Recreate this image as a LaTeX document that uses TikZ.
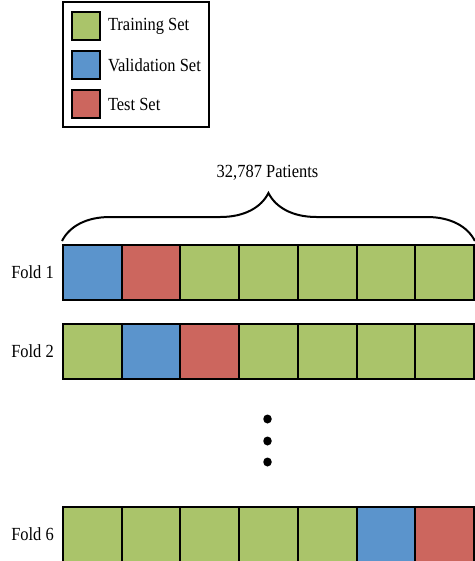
\documentclass[tikz,border=0pt]{standalone}
\usepackage{fontspec}
\setmainfont[FakeStretch=0.89]{Liberation Serif}
\usepackage{tikz}
\usetikzlibrary{positioning,decorations.pathreplacing,shapes.geometric}
\definecolor{trainGreen}{HTML}{AAC46A}
\definecolor{valBlue}{HTML}{5B94CC}
\definecolor{testRed}{HTML}{CC665E}
\tikzset{
  cell/.style={draw,line width=2pt,minimum width=58.7pt,minimum height=55pt,inner sep=0pt,anchor=north west},
  keybox/.style={draw,line width=1.6pt,minimum size=28pt,inner sep=0pt},
  lbl/.style={font=\fontsize{18.5}{22}\selectfont,inner sep=0pt},
  dotmark/.style={ellipse,fill=black,minimum width=8.5pt,minimum height=9pt,inner sep=0pt}
}
\begin{document}
\begin{tikzpicture}[x=1pt,y=-1pt]
\useasboundingbox (0,0) rectangle (474,561);

% legend
\node[draw,line width=2pt,minimum width=146pt,minimum height=125pt,anchor=north west] (legend) at (62,1.5) {};
\node[keybox,fill=trainGreen] (kTrain) at (86,26) {};
\node[keybox,fill=valBlue] (kVal) at (86,65) {};
\node[keybox,fill=testRed] (kTest) at (86,104) {};
\node[lbl,right=7pt of kTrain] (tTrain) {Training Set};
\node[lbl,right=7pt of kVal] (tVal) {Validation Set};
\node[lbl,right=7pt of kTest] (tTest) {Test Set};

% folds
\foreach \c [count=\i from 0] in {valBlue,testRed,trainGreen,trainGreen,trainGreen,trainGreen,trainGreen}
  \node[cell,fill=\c] (fa\i) at ({62+\i*58.7},244) {};
\foreach \c [count=\i from 0] in {trainGreen,valBlue,testRed,trainGreen,trainGreen,trainGreen,trainGreen}
  \node[cell,fill=\c] (fb\i) at ({62+\i*58.7},323) {};
\foreach \c [count=\i from 0] in {trainGreen,trainGreen,trainGreen,trainGreen,trainGreen,valBlue,testRed}
  \node[cell,fill=\c] (ff\i) at ({62+\i*58.7},506) {};

\node[lbl,left=8pt of fa0] (foldA) {Fold 1};
\node[lbl,left=8pt of fb0] (foldB) {Fold 2};
\node[lbl,left=8pt of ff0] (foldF) {Fold 6};

% brace
\draw[line width=2pt,decorate,decoration={brace,amplitude=48pt}]
  ([yshift=3pt]fa0.north west) -- ([yshift=3pt]fa6.north east);
\node[lbl] (total) at (267.5,173) {32,787 Patients};

% dots
\node[dotmark] (dotA) at (267.5,419) {};
\node[dotmark] (dotB) at (267.5,441) {};
\node[dotmark] (dotC) at (267.5,462) {};
\end{tikzpicture}
\end{document}
